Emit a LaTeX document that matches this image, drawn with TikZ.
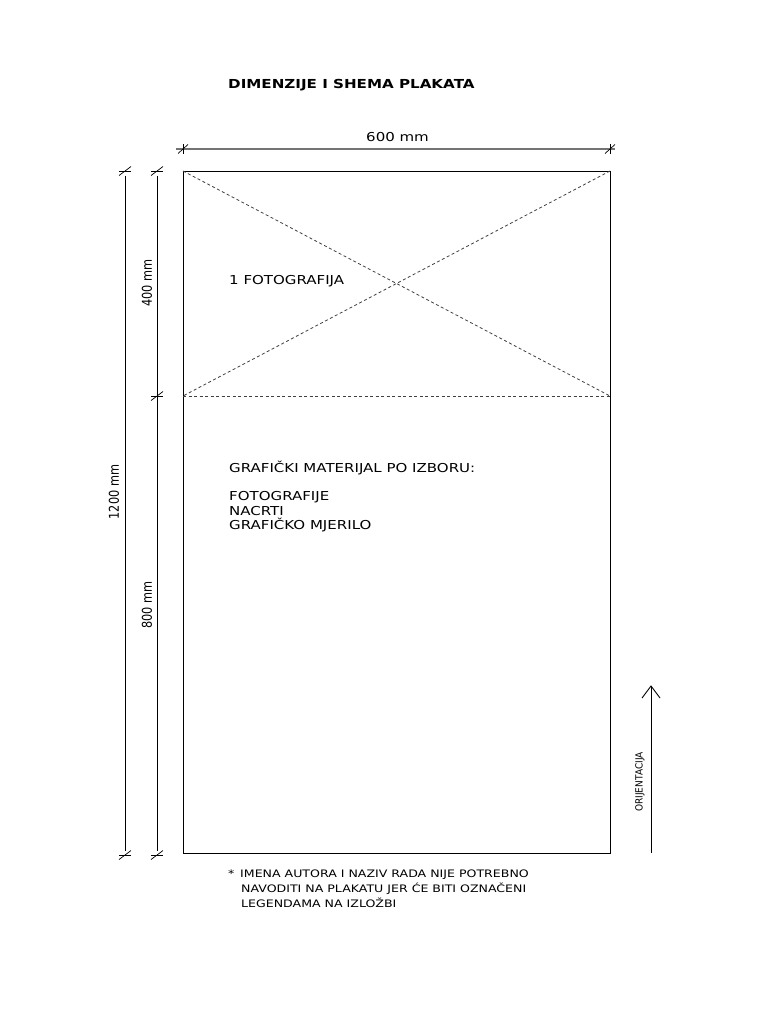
\documentclass[tikz,border=0pt]{standalone}
\usepackage{fontspec}
\setmainfont{DejaVu Sans}[FakeStretch=1.22]
\newfontfamily\rotfont{DejaVu Sans}
\begin{document}
\begin{tikzpicture}[x=1pt,y=-1pt,
  txt/.style={anchor=base west,inner sep=0pt,font=\fontsize{12.3}{15}\selectfont},
  note/.style={anchor=base west,inner sep=0pt,font=\fontsize{10.3}{15}\selectfont},
  rottxt/.style={rotate=90,inner sep=0pt,font=\rotfont\fontsize{11.3}{13}\selectfont},
  frame/.style={draw=black,line width=0.9pt},
  dimline/.style={draw=black,line width=0.9pt},
  hdim/.style={draw=black!55,line width=1.6pt},
  tickmark/.style={draw=black,line width=0.7pt},
  dashline/.style={draw=black!75,line width=0.8pt,dash pattern=on 3pt off 2.5pt},
  orient/.style={draw=black,line width=0.9pt}]
\useasboundingbox[fill=white] (0,0) rectangle (768,1024);

% title
\node[txt,font=\fontsize{12.4}{15}\selectfont\bfseries] (title) at (228,89) {DIMENZIJE I SHEMA PLAKATA};

% poster frame
\coordinate (tl) at (183,171);
\coordinate (tr) at (610,171);
\coordinate (bl) at (183,853);
\coordinate (br) at (610,853);
\coordinate (ml) at (183,396);
\coordinate (mr) at (610,396);
\draw[frame] (tl) rectangle (br);
\draw[dashline] (tl) -- (mr);
\draw[dashline] (tr) -- (ml);
\draw[dashline] (ml) -- (mr);

% top dimension
\coordinate (hA) at (183,149);
\coordinate (hB) at (610,149);
\draw[hdim] ([xshift=-7pt]hA) -- ([xshift=5pt]hB);
\foreach \p in {hA,hB}{
  \draw[tickmark] ([yshift=-5pt]\p) -- ([yshift=5pt]\p);
  \draw[tickmark] ([shift={(-5,4.5)}]\p) -- ([shift={(5,-4.5)}]\p);
}
\node[txt] (w600) at (366,142) {600 mm};

% left dimensions
\coordinate (vAt) at (125,171);
\coordinate (vAb) at (125,855);
\coordinate (vBt) at (157,171);
\coordinate (vBm) at (157,396);
\coordinate (vBb) at (157,855);
\draw[dimline] ([yshift=-5pt]vAt) -- ([yshift=4pt]vAb);
\draw[dimline] ([yshift=-5pt]vBt) -- ([yshift=4pt]vBb);
\foreach \p in {vAt,vAb,vBt,vBm,vBb}{
  \draw[tickmark] ([xshift=-6pt]\p) -- ([xshift=6pt]\p);
  \draw[tickmark] ([shift={(-6,4.5)}]\p) -- ([shift={(6,-4.5)}]\p);
}
\node[rottxt] (d400) at (147,283) {\scalebox{1}[1.2]{400 mm}};
\node[rottxt] (d800) at (147,605) {\scalebox{1}[1.2]{800 mm}};
\node[rottxt] (d1200) at (114,492) {\scalebox{1}[1.2]{1200 mm}};

% contents
\node[txt] (foto) at (229,284.5) {1 FOTOGRAFIJA};
\node[txt] (graf) at (229,472) {GRAFIČKI MATERIJAL PO IZBORU:};
\node[txt] (l1) at (229,500) {FOTOGRAFIJE};
\node[txt] (l2) at (229,515) {NACRTI};
\node[txt] (l3) at (229,529) {GRAFIČKO MJERILO};

% footnote
\node[note] (star) at (228,877) {*};
\node[note] (n1) at (240,877) {IMENA AUTORA I NAZIV RADA NIJE POTREBNO};
\node[note] (n2) at (241,892) {NAVODITI NA PLAKATU JER ĆE BITI OZNAČENI};
\node[note] (n3) at (241,907) {LEGENDAMA NA IZLOŽBI};

% orientation arrow
\coordinate (oB) at (651,853);
\coordinate (oT) at (651,686);
\coordinate (oL) at (642,698);
\coordinate (oR) at (660,698);
\draw[orient] (oB) -- (oT);
\draw[orient] (oL) -- (oT) -- (oR);
\node[rottxt,font=\rotfont\fontsize{9}{11}\selectfont] (ori) at (640,782) {\scalebox{1}[1.1]{ORIJENTACIJA}};
\end{tikzpicture}
\end{document}
